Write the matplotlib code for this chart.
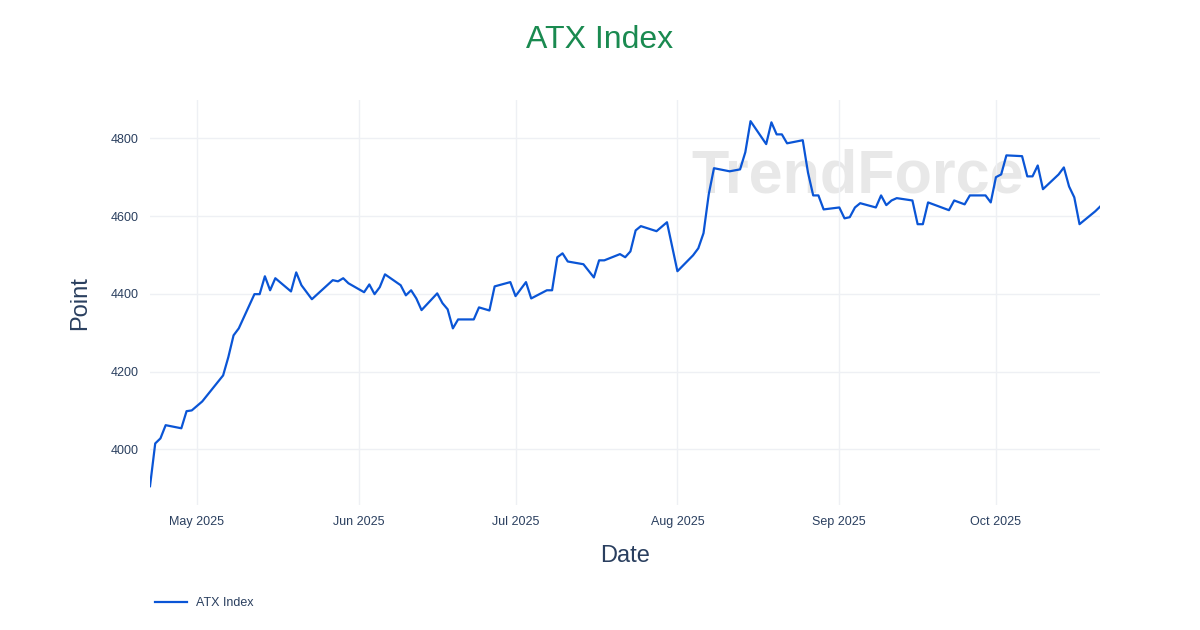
import matplotlib
matplotlib.use("Agg")
import matplotlib.pyplot as plt
import matplotlib.dates as mdates
import pandas as pd

plt.rcParams['font.family'] = ['Liberation Sans', 'DejaVu Sans']

dates = ["2025-04-22","2025-04-23","2025-04-24","2025-04-25","2025-04-28","2025-04-29","2025-04-30",
         "2025-05-02","2025-05-06","2025-05-07","2025-05-08","2025-05-09","2025-05-12","2025-05-13",
         "2025-05-14","2025-05-15","2025-05-16","2025-05-19","2025-05-20","2025-05-21","2025-05-23",
         "2025-05-27","2025-05-28","2025-05-29","2025-05-30","2025-06-02","2025-06-03","2025-06-04",
         "2025-06-05","2025-06-06","2025-06-09","2025-06-10","2025-06-11","2025-06-12","2025-06-13",
         "2025-06-16","2025-06-17","2025-06-18","2025-06-19","2025-06-20","2025-06-23","2025-06-24",
         "2025-06-26","2025-06-27","2025-06-30","2025-07-01","2025-07-03","2025-07-04","2025-07-07",
         "2025-07-08","2025-07-09","2025-07-10","2025-07-11","2025-07-14","2025-07-16","2025-07-17",
         "2025-07-18","2025-07-21","2025-07-22","2025-07-23","2025-07-24","2025-07-25","2025-07-28",
         "2025-07-30","2025-08-01","2025-08-04","2025-08-05","2025-08-06","2025-08-07","2025-08-08",
         "2025-08-11","2025-08-13","2025-08-14","2025-08-15","2025-08-18","2025-08-19","2025-08-20",
         "2025-08-21","2025-08-22","2025-08-25","2025-08-26","2025-08-27","2025-08-28","2025-08-29",
         "2025-09-01","2025-09-02","2025-09-03","2025-09-04","2025-09-05","2025-09-08","2025-09-09",
         "2025-09-10","2025-09-11","2025-09-12","2025-09-15","2025-09-16","2025-09-17","2025-09-18",
         "2025-09-22","2025-09-23","2025-09-25","2025-09-26","2025-09-29","2025-09-30","2025-10-01",
         "2025-10-02","2025-10-03","2025-10-06","2025-10-07","2025-10-08","2025-10-09","2025-10-10",
         "2025-10-13","2025-10-14","2025-10-15","2025-10-16","2025-10-17","2025-10-20","2025-10-21"]
values = [3905,4015,4028,4062,4054,4098,4100,
          4123,4190,4237,4293,4311,4399,4399,
          4445,4409,4440,4406,4455,4422,4386,
          4435,4432,4440,4427,4404,4424,4399,
          4417,4450,4422,4396,4409,4388,4358,
          4401,4376,4360,4311,4334,4334,4365,
          4357,4419,4430,4394,4430,4388,4409,
          4409,4494,4504,4483,4476,4442,4486,
          4486,4502,4494,4509,4563,4574,4561,
          4584,4458,4499,4517,4556,4656,4723,
          4715,4720,4764,4844,4785,4841,4810,
          4810,4787,4795,4712,4653,4653,4617,
          4622,4594,4597,4622,4633,4622,4653,
          4628,4640,4646,4640,4579,4579,4635,
          4615,4640,4630,4653,4653,4635,4700,
          4707,4756,4754,4702,4702,4730,4669,
          4707,4725,4676,4648,4579,4612,4625]
x = pd.to_datetime(dates)

fig = plt.figure(figsize=(12, 6.3), dpi=100)
ax = fig.add_axes([0.125, 0.198, 0.792, 0.643])
ax.plot(x, values, color="#0a55d6", lw=1.6, label="ATX Index")
ax.set_xlim(x[0], x[-1])
ax.set_ylim(3856, 4898)
ax.set_yticks([4000, 4200, 4400, 4600, 4800])
ax.xaxis.set_major_locator(mdates.MonthLocator())
ax.xaxis.set_major_formatter(mdates.DateFormatter("%b %Y"))
ax.grid(True, color="#eef0f4", lw=1)
for s in ax.spines.values():
    s.set_visible(False)
ax.tick_params(length=0, labelsize=9, colors="#2a3f5f", pad=8)
ax.set_xlabel("Date", fontsize=17, color="#2a3f5f", labelpad=12)
ax.set_ylabel("Point", fontsize=17, color="#2a3f5f", labelpad=14)
fig.text(0.5, 0.937, "ATX Index", ha="center", va="center", fontsize=23, color="#1a8a50")
ax.text(0.57, 0.81, "TrendForce", transform=ax.transAxes, fontsize=44, color="#d9d9d9",
        alpha=0.6, fontweight="bold", va="center", zorder=0)
fig.legend(loc="lower left", bbox_to_anchor=(0.12, 0.015), frameon=False, fontsize=9,
           labelcolor="#2a3f5f", handlelength=2.5)
fig.savefig("out.png", dpi=100)
